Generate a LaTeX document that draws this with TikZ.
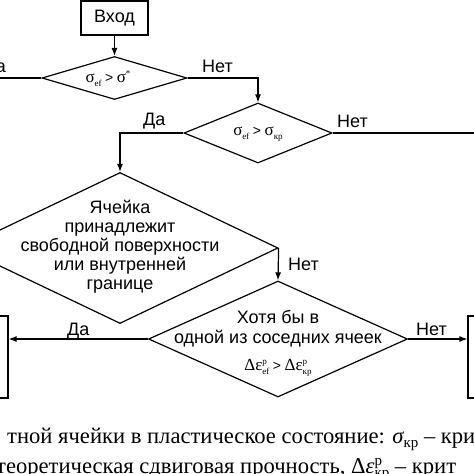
\documentclass[tikz,border=0pt]{standalone}
\usepackage{fontspec}
\setmainfont{Liberation Sans}
\newfontfamily\symf{Liberation Serif}
\newfontfamily\capf{Liberation Serif}
\usetikzlibrary{shapes.geometric,arrows.meta}
\newcommand\gsym[1]{{\symf\fontsize{17}{17}\selectfont #1}}
\newcommand\gt{{\fontsize{14}{14}\selectfont\hspace{3.5pt}>\hspace{3.5pt}}}
\newcommand\lsub[1]{\raisebox{-4pt}{\symf\fontsize{9}{9}\selectfont #1}}
\newcommand\lsup[1]{\raisebox{6pt}{\symf\fontsize{9}{9}\selectfont #1}}
\newcommand\lsupsub[2]{\makebox[0pt][l]{\lsup{#1}}\lsub{#2}}
\newcommand\csub[1]{\raisebox{-4pt}{\fontsize{15}{15}\selectfont #1}}
\newcommand\csup[1]{\raisebox{8pt}{\fontsize{15}{15}\selectfont #1}}
\begin{document}
\begin{tikzpicture}[x=1pt,y=-1pt,
  every node/.style={font=\fontsize{18}{19}\selectfont, inner sep=0pt},
  ln/.style={line width=1.2pt},
  arr/.style={ln,-{Latex[length=8pt,width=6pt]}},
  boxs/.style={draw,ln,rectangle,minimum width=#1},
  dia/.style={draw,ln,diamond,aspect=1},
  lbl/.style={anchor=base west},
  txt/.style={anchor=base},
  captxt/.style={anchor=base west, font=\capf\fontsize{22.6}{22.6}\selectfont}]
\useasboundingbox (0,0) rectangle (474,474);
\clip (0,0) rectangle (474,474);
\fill[white] (0,0) rectangle (474,474);

% shapes
\node[boxs=67, minimum height=34] (vhod) at (114.5,18) {Вход};
\node[dia, minimum width=145, minimum height=43] (d1) at (114.5,78) {};
\node[dia, minimum width=148, minimum height=60] (d2) at (258,133) {};
\node[dia, minimum width=316, minimum height=151] (d3) at (120,248) {};
\node[dia, minimum width=259, minimum height=116] (d4) at (278,339) {};
\node[boxs=90, minimum height=82] (lbox) at (-37,357) {};
\node[boxs=90, minimum height=82] (rbox) at (513,357) {};
\coordinate (d1out) at (-10,78);
\coordinate (d2out) at (484,133);

% texts in diamonds
\node (t1) at (108,79) {\gsym{σ}\lsub{ef}\gt\gsym{σ}\raisebox{6pt}{\symf\fontsize{9}{9}\selectfont *}};
\node (t2) at (258,134) {\gsym{σ}\lsub{ef}\gt\gsym{σ}\lsub{кр}};
\node[txt] (t3a) at (120,213) {Ячейка};
\node[txt] (t3b) at (120,232) {принадлежит};
\node[txt] (t3c) at (120,251) {свободной поверхности};
\node[txt] (t3d) at (120,270) {или внутренней};
\node[txt] (t3e) at (120,289) {границе};
\node[txt] (t4a) at (278,323) {Хотя бы в};
\node[txt] (t4b) at (278,343) {одной из соседних ячеек};
\node[txt] (t4c) at (278,370) {\gsym{Δε}\lsupsub{p}{ef}\gt\gsym{Δε}\lsupsub{p}{кр}};

% connectors
\draw[arr] (vhod.south) -- (d1.north);
\draw[ln] (d1.west) -- (d1out);
\draw[arr] (d1.east) -| (d2.north);
\draw[ln] (d2.east) -- (d2out);
\draw[arr] (d2.west) -| (d3.north);
\draw[arr] (d3.east) -- (d4.north);
\draw[arr] (d4.west) -- (d4.west -| lbox.east);
\draw[arr] (d4.east) -- (d4.east -| rbox.west);

% labels
\node[anchor=base east] (l1) at (6,72) {Да};
\node[lbl] (l2) at (202,72) {Нет};
\node[lbl] (l3) at (143,125) {Да};
\node[lbl] (l4) at (337,127) {Нет};
\node[lbl] (l5) at (288,270) {Нет};
\node[lbl] (l6) at (67,335) {Да};
\node[lbl] (l7) at (416,335) {Нет};

% caption
\node[captxt] (c1) at (7,443)
  {тной ячейки в пластическое состояние: {\itshape σ}\csub{кр} – кри};
\node[captxt] (c2) at (-4,473)
  {теоретическая сдвиговая прочность, Δ{\itshape ε}\makebox[0pt][l]{\csup{p}}\csub{кр} – крит};
\end{tikzpicture}
\end{document}
